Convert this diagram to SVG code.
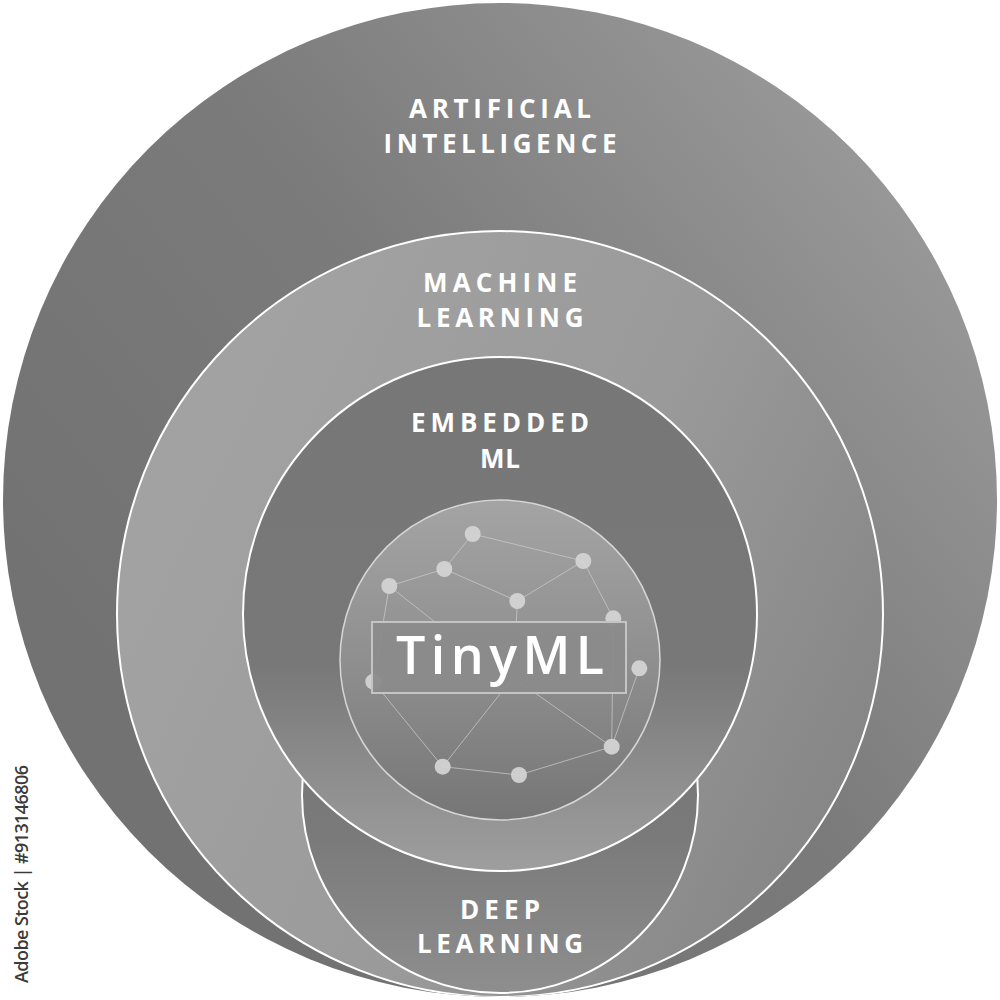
<svg xmlns="http://www.w3.org/2000/svg" width="1000" height="1000" viewBox="0 0 1000 1000">
<defs>
<style>
.lbl{font-family:"Open Sans","Lato","Liberation Sans",sans-serif;font-weight:700;font-size:26px;fill:#ffffff;text-anchor:middle}
.ring{stroke:#ffffff;stroke-width:2}
.link{stroke:#c9c9c9;stroke-width:1;stroke-opacity:0.75;fill:none}
.dot{fill:#d3d3d3;fill-opacity:0.95}
</style>
<linearGradient id="gAI" x1="0.15" y1="0.75" x2="0.9" y2="0.15">
<stop offset="0" stop-color="#727272"/>
<stop offset="0.5" stop-color="#7b7b7b"/>
<stop offset="1" stop-color="#999999"/>
</linearGradient>
<linearGradient id="gML" x1="0.1" y1="0.3" x2="0.95" y2="0.7">
<stop offset="0" stop-color="#a2a2a2"/>
<stop offset="0.55" stop-color="#9a9a9a"/>
<stop offset="1" stop-color="#878787"/>
</linearGradient>
<linearGradient id="gEML" x1="0" y1="0" x2="0" y2="1">
<stop offset="0" stop-color="#777777"/>
<stop offset="0.6" stop-color="#787878"/>
<stop offset="0.82" stop-color="#8e8e8e"/>
<stop offset="1" stop-color="#9e9e9e"/>
</linearGradient>
<linearGradient id="gTiny" x1="0" y1="0" x2="0" y2="1">
<stop offset="0" stop-color="#a4a4a4"/>
<stop offset="0.5" stop-color="#8f8f8f"/>
<stop offset="1" stop-color="#767676"/>
</linearGradient>
<linearGradient id="gDL" x1="0" y1="0" x2="0" y2="1">
<stop offset="0" stop-color="#727272"/>
<stop offset="0.6" stop-color="#7a7a7a"/>
<stop offset="1" stop-color="#8e8e8e"/>
</linearGradient>
<clipPath id="clipAI"><circle cx="500" cy="500" r="497"/></clipPath>
</defs>
<rect x="0" y="0" width="1000" height="1000" fill="#ffffff"/>

<g id="artificial-intelligence">
<circle cx="500" cy="500" r="497" fill="url(#gAI)"/>
<text class="lbl" x="500" y="118" textLength="182" lengthAdjust="spacing">ARTIFICIAL</text>
<text class="lbl" x="500" y="153" textLength="233" lengthAdjust="spacing">INTELLIGENCE</text>
</g>

<g clip-path="url(#clipAI)">
<g id="machine-learning">
<circle class="ring" cx="500" cy="614" r="383" fill="url(#gML)"/>
<text class="lbl" x="500" y="292" textLength="154" lengthAdjust="spacing">MACHINE</text>
<text class="lbl" x="500" y="327" textLength="167" lengthAdjust="spacing">LEARNING</text>
</g>

<g id="deep-learning">
<circle class="ring" cx="500" cy="795" r="198" fill="url(#gDL)"/>
<text class="lbl" x="500" y="919" textLength="80" lengthAdjust="spacing">DEEP</text>
<text class="lbl" x="500" y="953" textLength="166" lengthAdjust="spacing">LEARNING</text>
</g>

<g id="embedded-ml">
<circle class="ring" cx="500" cy="614" r="257" fill="url(#gEML)"/>
<text class="lbl" x="500" y="432" textLength="178" lengthAdjust="spacing">EMBEDDED</text>
<text class="lbl" x="500" y="468" textLength="40" lengthAdjust="spacing">ML</text>
</g>

<g id="tinyml">
<circle cx="500" cy="660" r="160" fill="url(#gTiny)" stroke="#d6d6d6" stroke-width="1.5"/>
<g id="network">
<g class="connectors">
<line class="link" x1="472.7" y1="534" x2="444.3" y2="569"/>
<line class="link" x1="472.7" y1="534" x2="583.3" y2="561"/>
<line class="link" x1="444.3" y1="569" x2="389.3" y2="586"/>
<line class="link" x1="444.3" y1="569" x2="517.3" y2="601"/>
<line class="link" x1="583.3" y1="561" x2="517.3" y2="601"/>
<line class="link" x1="583.3" y1="561" x2="613.3" y2="618.3"/>
<line class="link" x1="389.3" y1="586" x2="373.3" y2="681.7"/>
<line class="link" x1="389.3" y1="586" x2="440" y2="626"/>
<line class="link" x1="517.3" y1="601" x2="516" y2="630"/>
<line class="link" x1="613.3" y1="618.3" x2="611.7" y2="746.7"/>
<line class="link" x1="639.3" y1="668.3" x2="611.7" y2="746.7"/>
<line class="link" x1="373.3" y1="681.7" x2="442.7" y2="766.7"/>
<line class="link" x1="442.7" y1="766.7" x2="519" y2="775"/>
<line class="link" x1="519" y1="775" x2="611.7" y2="746.7"/>
<line class="link" x1="442.7" y1="766.7" x2="515" y2="675"/>
<line class="link" x1="611.7" y1="746.7" x2="515" y2="679"/>
</g>
<circle class="dot" cx="472.7" cy="534" r="8"/>
<circle class="dot" cx="444.3" cy="569" r="8"/>
<circle class="dot" cx="389.3" cy="586" r="8"/>
<circle class="dot" cx="583.3" cy="561" r="8"/>
<circle class="dot" cx="517.3" cy="601" r="8"/>
<circle class="dot" cx="613.3" cy="618.3" r="8"/>
<circle class="dot" cx="639.3" cy="668.3" r="8"/>
<circle class="dot" cx="373.3" cy="681.7" r="8"/>
<circle class="dot" cx="611.7" cy="746.7" r="8"/>
<circle class="dot" cx="442.7" cy="766.7" r="8"/>
<circle class="dot" cx="519" cy="775" r="8"/>
</g>
<rect x="372" y="622" width="254" height="71" fill="#8b8b8b" fill-opacity="0.95" stroke="#c4c4c4" stroke-width="2"/>
<text x="500" y="674" text-anchor="middle" font-family="'Open Sans', Lato, 'Liberation Sans', sans-serif" font-weight="600" font-size="52" fill="#ffffff" textLength="208" lengthAdjust="spacing">TinyML</text>
</g>
</g>

<text transform="translate(28,983) rotate(-90)" font-family="'Open Sans','Liberation Sans',sans-serif" font-weight="600" font-size="18" fill="#3a3a3a" textLength="218" lengthAdjust="spacing">Adobe Stock | #913146806</text>
</svg>
